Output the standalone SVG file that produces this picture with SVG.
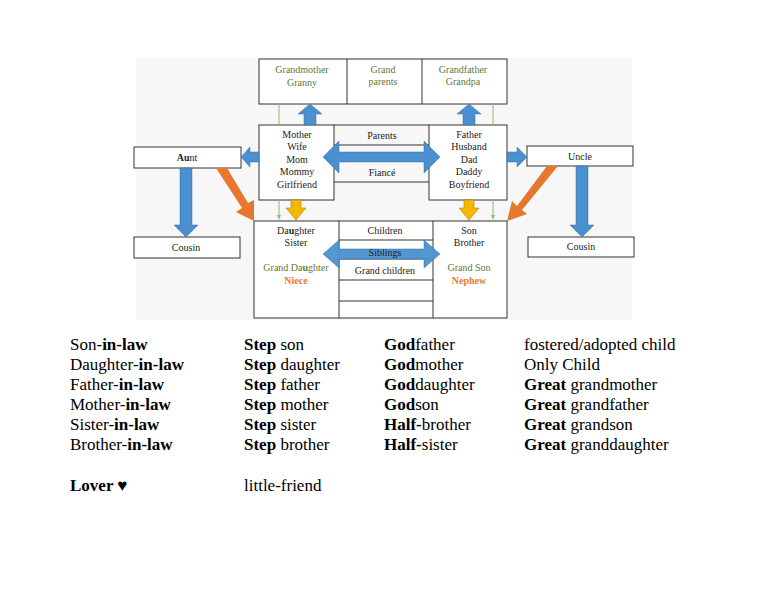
<svg xmlns="http://www.w3.org/2000/svg" width="768" height="594" viewBox="0 0 768 594">
<style>
.b{fill:#fff;stroke:#333;stroke-width:1}
.l{stroke:#333;stroke-width:1}
.t{font-family:"Liberation Serif",serif;font-size:10px;fill:#222;text-anchor:middle}
.g{fill:#5a7a3a}
.o{fill:#e87a2e;font-weight:bold}
.ba{fill:#4a90d0;stroke:#3a6ea0;stroke-width:.5}
.oa{fill:#e8772e}
.ya{fill:#f5b800;stroke:#a07a00;stroke-width:.5}
.gl{stroke:#8bc06a;stroke-width:1;fill:none}
.w{font-family:"Liberation Serif",serif;font-size:17px;fill:#000}
</style>
<rect width="768" height="594" fill="#fff"/>
<rect x="136" y="58" width="496" height="262" fill="#f7f7f7"/>
<g id="grandparents"><rect class="b" x="259" y="59" width="248" height="45"/><line class="l" x1="347" y1="59" x2="347" y2="104"/><line class="l" x1="422" y1="59" x2="422" y2="104"/>
<text class="t g" x="302" y="73">Grandmother</text><text class="t g" x="302" y="86">Granny</text>
<text class="t g" x="383" y="73">Grand</text><text class="t g" x="383" y="85">parents</text>
<text class="t g" x="463" y="73">Grandfather</text><text class="t g" x="463" y="85">Grandpa</text></g>
<g id="parents"><rect class="b" x="259" y="125" width="75" height="75"/><rect class="b" x="429" y="125" width="78" height="75"/>
<line class="l" x1="334" y1="125" x2="429" y2="125"/><line class="l" x1="334" y1="145" x2="429" y2="145"/><line class="l" x1="334" y1="182" x2="429" y2="182"/>
<text class="t" x="297" y="138">Mother</text><text class="t" x="297" y="150">Wife</text><text class="t" x="297" y="163">Mom</text><text class="t" x="297" y="175">Mommy</text><text class="t" x="297" y="188">Girlfriend</text>
<text class="t" x="382" y="139">Parents</text><text class="t" x="382" y="176">Fiancé</text>
<text class="t" x="469" y="138">Father</text><text class="t" x="469" y="150">Husband</text><text class="t" x="469" y="163">Dad</text><text class="t" x="469" y="175">Daddy</text><text class="t" x="469" y="188">Boyfriend</text></g>
<g id="aunt"><rect class="b" x="134" y="147" width="107" height="21"/><text class="t" x="187" y="161"><tspan font-weight="bold">Au</tspan>nt</text></g>
<g id="uncle"><rect class="b" x="527" y="146" width="106" height="20"/><text class="t" x="580" y="160">Uncle</text></g>
<g id="cousin1"><rect class="b" x="134" y="237" width="106" height="21"/><text class="t" x="186" y="251">Cousin</text></g>
<g id="cousin2"><rect class="b" x="528" y="237" width="106" height="20"/><text class="t" x="581" y="250">Cousin</text></g>
<g id="children"><rect class="b" x="254" y="221" width="253" height="97"/><line class="l" x1="339" y1="221" x2="339" y2="318"/><line class="l" x1="433" y1="221" x2="433" y2="318"/>
<line class="l" x1="339" y1="240" x2="433" y2="240"/><line class="l" x1="339" y1="259" x2="433" y2="259"/><line class="l" x1="339" y1="280" x2="433" y2="280"/><line class="l" x1="339" y1="301" x2="433" y2="301"/>
<text class="t" x="296" y="234">Da<tspan font-weight="bold">u</tspan>ghter</text><text class="t" x="296" y="246">Sister</text>
<text class="t g" x="296" y="271">Grand Da<tspan font-weight="bold">u</tspan>ghter</text><text class="t o" x="296" y="284">Niece</text>
<text class="t" x="385" y="234">Children</text><text class="t" x="385" y="274">Grand children</text>
<text class="t" x="469" y="234">Son</text><text class="t" x="469" y="246">Brother</text>
<text class="t g" x="469" y="271">Grand Son</text><text class="t o" x="469" y="284">Nephew</text></g>
<g id="connectors">
<polyline class="gl" points="279,104 279,125"/><polyline class="gl" points="279,200 279,217"/><path d="M277,215 L281,215 L279,220Z" fill="#8bc06a"/>
<polyline class="gl" points="493,104 493,125"/><polyline class="gl" points="493,200 493,217"/><path d="M491,215 L495,215 L493,220Z" fill="#8bc06a"/>
<path class="ba" d="M304,125 L304,114 L298,114 L310,104 L322,114 L316,114 L316,125Z"/>
<path class="ba" d="M463,125 L463,114 L457,114 L469,104 L481,114 L475,114 L475,125Z"/>
<path class="ba" d="M323,157 L339,141 L339,152 L424,152 L424,141 L440,157 L424,173 L424,162 L339,162 L339,173Z"/>
<path class="ba" d="M357,252 L344,245 L344,252Z" opacity="0"/>
<path class="ba" d="M323,254 L339,240 L339,249 L424,249 L424,240 L440,254 L424,268 L424,259 L339,259 L339,268Z" fill-opacity="0.95"/>
<text class="t" x="385" y="256">Siblings</text>
<path class="ba" d="M259,152 L250,152 L250,147 L241,157 L250,167 L250,162 L259,162Z"/>
<path class="ba" d="M507,152 L517,152 L517,147 L527,157 L517,167 L517,162 L507,162Z"/>
<path class="ba" d="M180,168 L192,168 L192,225 L198,225 L186,237 L174,225 L180,225Z"/>
<path class="ba" d="M576,166 L588,166 L588,225 L594,225 L582,237 L570,225 L576,225Z"/>
<path class="oa" d="M216,168 L227,168 L248,203 L254,200 L254,221 L236,212 L242,208Z"/>
<path class="oa" d="M547,166 L558,166 L522,210 L527,214 L507,221 L512,201 L517,206Z"/>
<path class="ya" d="M291,200 L301,200 L301,208 L306,208 L296,220 L286,208 L291,208Z"/>
<path class="ya" d="M464,200 L474,200 L474,208 L479,208 L469,220 L459,208 L464,208Z"/>
</g>
<g id="wordlist">
<text class="w" x="70" y="350">Son-<tspan font-weight="bold">in-law</tspan></text>
<text class="w" x="70" y="370">Daughter-<tspan font-weight="bold">in-law</tspan></text>
<text class="w" x="70" y="390">Father-<tspan font-weight="bold">in-law</tspan></text>
<text class="w" x="70" y="410">Mother-<tspan font-weight="bold">in-law</tspan></text>
<text class="w" x="70" y="430">Sister-<tspan font-weight="bold">in-law</tspan></text>
<text class="w" x="70" y="450">Brother-<tspan font-weight="bold">in-law</tspan></text>
<text class="w" x="70" y="491" font-weight="bold">Lover ♥</text>
<text class="w" x="244" y="350"><tspan font-weight="bold">Step</tspan> son</text>
<text class="w" x="244" y="370"><tspan font-weight="bold">Step</tspan> daughter</text>
<text class="w" x="244" y="390"><tspan font-weight="bold">Step</tspan> father</text>
<text class="w" x="244" y="410"><tspan font-weight="bold">Step</tspan> mother</text>
<text class="w" x="244" y="430"><tspan font-weight="bold">Step</tspan> sister</text>
<text class="w" x="244" y="450"><tspan font-weight="bold">Step</tspan> brother</text>
<text class="w" x="244" y="491">little-friend</text>
<text class="w" x="384" y="350"><tspan font-weight="bold">God</tspan>father</text>
<text class="w" x="384" y="370"><tspan font-weight="bold">God</tspan>mother</text>
<text class="w" x="384" y="390"><tspan font-weight="bold">God</tspan>daughter</text>
<text class="w" x="384" y="410"><tspan font-weight="bold">God</tspan>son</text>
<text class="w" x="384" y="430"><tspan font-weight="bold">Half-</tspan>brother</text>
<text class="w" x="384" y="450"><tspan font-weight="bold">Half-</tspan>sister</text>
<text class="w" x="524" y="350">fostered/adopted child</text>
<text class="w" x="524" y="370">Only Child</text>
<text class="w" x="524" y="390"><tspan font-weight="bold">Great</tspan> grandmother</text>
<text class="w" x="524" y="410"><tspan font-weight="bold">Great</tspan> grandfather</text>
<text class="w" x="524" y="430"><tspan font-weight="bold">Great</tspan> grandson</text>
<text class="w" x="524" y="450"><tspan font-weight="bold">Great</tspan> granddaughter</text>
</g>
</svg>
